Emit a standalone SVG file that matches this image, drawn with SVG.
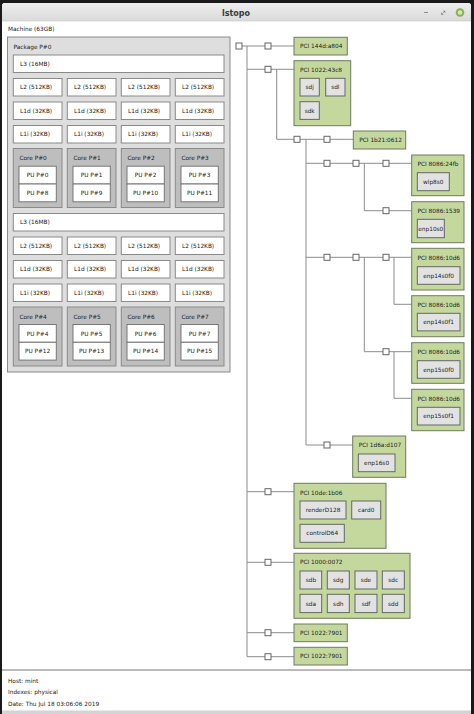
<svg xmlns="http://www.w3.org/2000/svg" width="474" height="714" viewBox="0 0 474 714">
<defs>
<linearGradient id="tb" x1="0" y1="0" x2="0" y2="1"><stop offset="0" stop-color="#eeeeee"/><stop offset="1" stop-color="#d9d9d9"/></linearGradient>
<style>
text{font-family:"DejaVu Sans","Liberation Sans",sans-serif;font-size:5.8px;fill:#222}
.c{text-anchor:middle}
.pkg{fill:#dedede;stroke:#8a8a8a;stroke-width:1}
.cache{fill:#ffffff;stroke:#8a8a8a;stroke-width:1}
.core{fill:#bebebe;stroke:#8a8a8a;stroke-width:1}
.pu{fill:#ffffff;stroke:#777;stroke-width:1}
.pci{fill:#c4d89e;stroke:#6f7a60;stroke-width:1}
.os{fill:#e2e2e2;stroke:#666;stroke-width:1}
.br{fill:#ffffff;stroke:#666;stroke-width:1}
.ln{stroke:#8c8c8c;stroke-width:1;fill:none}
</style>
</defs>
<rect x="0" y="0" width="474" height="714" fill="#1a1a1a"/>
<rect x="2" y="3" width="469" height="711" rx="3" fill="#ffffff"/>
<path d="M2 21 V6 Q2 3 5 3 H468 Q471 3 471 6 V21 Z" fill="url(#tb)"/>
<line x1="2" y1="21" x2="471" y2="21" stroke="#c8c8c8" stroke-width="0.6"/>
<text x="236" y="15.5" class="c" style="font-size:8px;font-weight:bold;fill:#3a3a3a">lstopo</text>
<line x1="424" y1="12.5" x2="428" y2="12.5" stroke="#777" stroke-width="0.8"/>
<path d="M441.5 14.5 L445 11 M443 11 H445 V13 M441.5 12.5 V14.5 H443.5" stroke="#777" stroke-width="0.6" fill="none"/>
<circle cx="460" cy="12.5" r="4.3" fill="#86b64a"/>
<circle cx="460" cy="12.5" r="2.2" fill="#d6e8b8"/>
<rect x="2" y="670" width="469" height="41" fill="#ffffff"/>
<line x1="2" y1="670" x2="471" y2="670" stroke="#777" stroke-width="1"/>
<rect x="2" y="710.5" width="469" height="4" fill="#d4d4d4"/>

<g id="machine"><text x="8" y="31">Machine (63GB)</text></g>

<g id="package">
<rect class="pkg" x="7.5" y="37" width="222.5" height="335"/>
<text x="13.5" y="48.7">Package P#0</text>
</g>

<g id="caches1">
<rect class="cache" x="13.3" y="55" width="210.7" height="17.5"/><text x="20" y="65.9">L3 (16MB)</text>
<rect class="cache" x="13.3" y="78.5" width="48.7" height="17.5"/><text x="20" y="89.4">L2 (512KB)</text>
<rect class="cache" x="67.3" y="78.5" width="48.7" height="17.5"/><text x="74" y="89.4">L2 (512KB)</text>
<rect class="cache" x="121.3" y="78.5" width="48.7" height="17.5"/><text x="128" y="89.4">L2 (512KB)</text>
<rect class="cache" x="175.3" y="78.5" width="48.7" height="17.5"/><text x="182" y="89.4">L2 (512KB)</text>
<rect class="cache" x="13.3" y="102" width="48.7" height="17.5"/><text x="20" y="112.9">L1d (32KB)</text>
<rect class="cache" x="67.3" y="102" width="48.7" height="17.5"/><text x="74" y="112.9">L1d (32KB)</text>
<rect class="cache" x="121.3" y="102" width="48.7" height="17.5"/><text x="128" y="112.9">L1d (32KB)</text>
<rect class="cache" x="175.3" y="102" width="48.7" height="17.5"/><text x="182" y="112.9">L1d (32KB)</text>
<rect class="cache" x="13.3" y="125.5" width="48.7" height="17.5"/><text x="20" y="136.4">L1i (32KB)</text>
<rect class="cache" x="67.3" y="125.5" width="48.7" height="17.5"/><text x="74" y="136.4">L1i (32KB)</text>
<rect class="cache" x="121.3" y="125.5" width="48.7" height="17.5"/><text x="128" y="136.4">L1i (32KB)</text>
<rect class="cache" x="175.3" y="125.5" width="48.7" height="17.5"/><text x="182" y="136.4">L1i (32KB)</text>
</g>

<g id="core0"><rect class="core" x="13.3" y="148.5" width="48.7" height="59"/><text x="19.5" y="160.4">Core P#0</text>
<rect class="pu" x="19" y="166.2" width="37.3" height="17.8"/><text class="c" x="37.6" y="177.2">PU P#0</text>
<rect class="pu" x="19" y="184" width="37.3" height="17.8"/><text class="c" x="37.6" y="195">PU P#8</text></g>
<g id="core1"><rect class="core" x="67.3" y="148.5" width="48.7" height="59"/><text x="73.5" y="160.4">Core P#1</text>
<rect class="pu" x="73" y="166.2" width="37.3" height="17.8"/><text class="c" x="91.6" y="177.2">PU P#1</text>
<rect class="pu" x="73" y="184" width="37.3" height="17.8"/><text class="c" x="91.6" y="195">PU P#9</text></g>
<g id="core2"><rect class="core" x="121.3" y="148.5" width="48.7" height="59"/><text x="127.5" y="160.4">Core P#2</text>
<rect class="pu" x="127" y="166.2" width="37.3" height="17.8"/><text class="c" x="145.6" y="177.2">PU P#2</text>
<rect class="pu" x="127" y="184" width="37.3" height="17.8"/><text class="c" x="145.6" y="195">PU P#10</text></g>
<g id="core3"><rect class="core" x="175.3" y="148.5" width="48.7" height="59"/><text x="181.5" y="160.4">Core P#3</text>
<rect class="pu" x="181" y="166.2" width="37.3" height="17.8"/><text class="c" x="199.6" y="177.2">PU P#3</text>
<rect class="pu" x="181" y="184" width="37.3" height="17.8"/><text class="c" x="199.6" y="195">PU P#11</text></g>

<g id="caches2">
<rect class="cache" x="13.3" y="213.5" width="210.7" height="17.5"/><text x="20" y="224.4">L3 (16MB)</text>
<rect class="cache" x="13.3" y="237" width="48.7" height="17.5"/><text x="20" y="247.9">L2 (512KB)</text>
<rect class="cache" x="67.3" y="237" width="48.7" height="17.5"/><text x="74" y="247.9">L2 (512KB)</text>
<rect class="cache" x="121.3" y="237" width="48.7" height="17.5"/><text x="128" y="247.9">L2 (512KB)</text>
<rect class="cache" x="175.3" y="237" width="48.7" height="17.5"/><text x="182" y="247.9">L2 (512KB)</text>
<rect class="cache" x="13.3" y="260.5" width="48.7" height="17.5"/><text x="20" y="271.4">L1d (32KB)</text>
<rect class="cache" x="67.3" y="260.5" width="48.7" height="17.5"/><text x="74" y="271.4">L1d (32KB)</text>
<rect class="cache" x="121.3" y="260.5" width="48.7" height="17.5"/><text x="128" y="271.4">L1d (32KB)</text>
<rect class="cache" x="175.3" y="260.5" width="48.7" height="17.5"/><text x="182" y="271.4">L1d (32KB)</text>
<rect class="cache" x="13.3" y="284" width="48.7" height="17.5"/><text x="20" y="294.9">L1i (32KB)</text>
<rect class="cache" x="67.3" y="284" width="48.7" height="17.5"/><text x="74" y="294.9">L1i (32KB)</text>
<rect class="cache" x="121.3" y="284" width="48.7" height="17.5"/><text x="128" y="294.9">L1i (32KB)</text>
<rect class="cache" x="175.3" y="284" width="48.7" height="17.5"/><text x="182" y="294.9">L1i (32KB)</text>
</g>

<g id="core4"><rect class="core" x="13.3" y="307" width="48.7" height="59"/><text x="19.5" y="318.9">Core P#4</text>
<rect class="pu" x="19" y="324.5" width="37.3" height="17.8"/><text class="c" x="37.6" y="335.5">PU P#4</text>
<rect class="pu" x="19" y="342.3" width="37.3" height="17.8"/><text class="c" x="37.6" y="353.3">PU P#12</text></g>
<g id="core5"><rect class="core" x="67.3" y="307" width="48.7" height="59"/><text x="73.5" y="318.9">Core P#5</text>
<rect class="pu" x="73" y="324.5" width="37.3" height="17.8"/><text class="c" x="91.6" y="335.5">PU P#5</text>
<rect class="pu" x="73" y="342.3" width="37.3" height="17.8"/><text class="c" x="91.6" y="353.3">PU P#13</text></g>
<g id="core6"><rect class="core" x="121.3" y="307" width="48.7" height="59"/><text x="127.5" y="318.9">Core P#6</text>
<rect class="pu" x="127" y="324.5" width="37.3" height="17.8"/><text class="c" x="145.6" y="335.5">PU P#6</text>
<rect class="pu" x="127" y="342.3" width="37.3" height="17.8"/><text class="c" x="145.6" y="353.3">PU P#14</text></g>
<g id="core7"><rect class="core" x="175.3" y="307" width="48.7" height="59"/><text x="181.5" y="318.9">Core P#7</text>
<rect class="pu" x="181" y="324.5" width="37.3" height="17.8"/><text class="c" x="199.6" y="335.5">PU P#7</text>
<rect class="pu" x="181" y="342.3" width="37.3" height="17.8"/><text class="c" x="199.6" y="353.3">PU P#15</text></g>

<g id="connectors">
<path class="ln" d="M242 46 H294 M247 46 V656.7"/>
<path class="ln" d="M247 69.3 H294 M276.7 69.3 V139.3 H353.3 M306 139.3 V445"/>
<path class="ln" d="M306 163.3 H411.7 M364.3 163.3 V210.7 H411.7"/>
<path class="ln" d="M306 257.3 H411.7 M364.3 257.3 V351.7 H411.7 M394 257.3 V304.3 H411.7 M394 351.7 V398.3 H411.7"/>
<path class="ln" d="M306 445 H352.7"/>
<path class="ln" d="M247 491.7 H294 M247 562.3 H294 M247 632.7 H294 M247 656.7 H294"/>
</g>

<g id="bridges">
<rect class="br" x="236" y="43" width="6" height="6"/>
<rect class="br" x="265" y="43" width="6" height="6"/>
<rect class="br" x="265" y="66.3" width="6" height="6"/>
<rect class="br" x="294" y="136.3" width="6" height="6"/>
<rect class="br" x="324" y="136.3" width="6" height="6"/>
<rect class="br" x="324" y="160.3" width="6" height="6"/>
<rect class="br" x="353" y="160.3" width="6" height="6"/>
<rect class="br" x="383" y="160.3" width="6" height="6"/>
<rect class="br" x="383" y="207.7" width="6" height="6"/>
<rect class="br" x="324" y="254.3" width="6" height="6"/>
<rect class="br" x="353" y="254.3" width="6" height="6"/>
<rect class="br" x="383" y="254.3" width="6" height="6"/>
<rect class="br" x="383" y="348.7" width="6" height="6"/>
<rect class="br" x="324" y="442" width="6" height="6"/>
<rect class="br" x="265" y="488.7" width="6" height="6"/>
<rect class="br" x="265" y="559.3" width="6" height="6"/>
<rect class="br" x="265" y="629.7" width="6" height="6"/>
<rect class="br" x="265" y="653.7" width="6" height="6"/>
</g>

<g id="pci-144d-a804"><rect class="pci" x="294" y="37.3" width="53.3" height="17.7"/><text x="300" y="48.2">PCI 144d:a804</text></g>
<g id="pci-1022-43c8"><rect class="pci" x="294" y="60.7" width="56.7" height="65"/><text x="300" y="72">PCI 1022:43c8</text>
<rect class="os" x="300" y="78.3" width="19.3" height="17.7"/><text class="c" x="309.7" y="89.2">sdj</text>
<rect class="os" x="325.7" y="78.3" width="19.3" height="17.7"/><text class="c" x="335.3" y="89.2">sdl</text>
<rect class="os" x="300" y="101.7" width="19.3" height="17.7"/><text class="c" x="309.7" y="112.6">sdk</text></g>
<g id="pci-1b21-0612"><rect class="pci" x="353.3" y="131" width="52.4" height="18"/><text x="359.3" y="142">PCI 1b21:0612</text></g>
<g id="pci-8086-24fb"><rect class="pci" x="411.7" y="155" width="52.3" height="40.7"/><text x="417.5" y="166.4">PCI 8086:24fb</text>
<rect class="os" x="417.3" y="172.7" width="32" height="18"/><text class="c" x="433.3" y="183.8">wlp8s0</text></g>
<g id="pci-8086-1539"><rect class="pci" x="411.7" y="201.7" width="52.3" height="41"/><text x="417.5" y="213.1">PCI 8086:1539</text>
<rect class="os" x="417.3" y="219.3" width="27" height="18.4"/><text class="c" x="430.8" y="230.6">enp10s0</text></g>
<g id="pci-8086-10d6-a"><rect class="pci" x="411.7" y="248.3" width="52.3" height="41.7"/><text x="417.5" y="259.8">PCI 8086:10d6</text>
<rect class="os" x="417.3" y="266.7" width="42.7" height="17.6"/><text class="c" x="438.6" y="277.6">enp14s0f0</text></g>
<g id="pci-8086-10d6-b"><rect class="pci" x="411.7" y="295.7" width="52.3" height="41"/><text x="417.5" y="307.1">PCI 8086:10d6</text>
<rect class="os" x="417.3" y="313.3" width="42.7" height="17.6"/><text class="c" x="438.6" y="324.2">enp14s0f1</text></g>
<g id="pci-8086-10d6-c"><rect class="pci" x="411.7" y="342.7" width="52.3" height="40.6"/><text x="417.5" y="353.8">PCI 8086:10d6</text>
<rect class="os" x="417.3" y="360.7" width="42.7" height="17.6"/><text class="c" x="438.6" y="371.6">enp15s0f0</text></g>
<g id="pci-8086-10d6-d"><rect class="pci" x="411.7" y="389.3" width="52.3" height="41.4"/><text x="417.5" y="401.1">PCI 8086:10d6</text>
<rect class="os" x="417.3" y="407.3" width="42.7" height="17.7"/><text class="c" x="438.6" y="418.2">enp15s0f1</text></g>
<g id="pci-1d6a-d107"><rect class="pci" x="352.7" y="436" width="53" height="41.3"/><text x="358.7" y="447.1">PCI 1d6a:d107</text>
<rect class="os" x="358.3" y="454" width="36.7" height="17.7"/><text class="c" x="376.6" y="464.9">enp16s0</text></g>
<g id="pci-10de-1b06"><rect class="pci" x="294" y="483.3" width="92" height="65"/><text x="300" y="494.8">PCI 10de:1b06</text>
<rect class="os" x="300" y="501" width="46" height="18"/><text class="c" x="323" y="512.1">renderD128</text>
<rect class="os" x="351.7" y="501" width="29" height="18"/><text class="c" x="366.2" y="512.1">card0</text>
<rect class="os" x="300" y="524.3" width="44.3" height="18"/><text class="c" x="322.2" y="535.4">controlD64</text></g>
<g id="pci-1000-0072"><rect class="pci" x="294" y="553.3" width="116" height="65"/><text x="300" y="564.4">PCI 1000:0072</text>
<rect class="os" x="300" y="571" width="21.7" height="18"/><text class="c" x="310.9" y="582.1">sdb</text>
<rect class="os" x="327.3" y="571" width="22" height="18"/><text class="c" x="338.3" y="582.1">sdg</text>
<rect class="os" x="355" y="571" width="22" height="18"/><text class="c" x="366" y="582.1">sde</text>
<rect class="os" x="382.3" y="571" width="22" height="18"/><text class="c" x="393.3" y="582.1">sdc</text>
<rect class="os" x="300" y="594.3" width="21.7" height="18.3"/><text class="c" x="310.9" y="605.5">sda</text>
<rect class="os" x="327.3" y="594.3" width="22" height="18.3"/><text class="c" x="338.3" y="605.5">sdh</text>
<rect class="os" x="355" y="594.3" width="22" height="18.3"/><text class="c" x="366" y="605.5">sdf</text>
<rect class="os" x="382.3" y="594.3" width="22" height="18.3"/><text class="c" x="393.3" y="605.5">sdd</text></g>
<g id="pci-1022-7901-a"><rect class="pci" x="294" y="624" width="53.3" height="17.7"/><text x="300" y="634.9">PCI 1022:7901</text></g>
<g id="pci-1022-7901-b"><rect class="pci" x="294" y="647.3" width="53.3" height="17.7"/><text x="300" y="658.2">PCI 1022:7901</text></g>

<g id="legend">
<text x="8" y="682.8">Host: mint</text>
<text x="8" y="694.4">Indexes: physical</text>
<text x="8" y="706">Date: Thu Jul 18 03:06:06 2019</text>
</g>
</svg>
